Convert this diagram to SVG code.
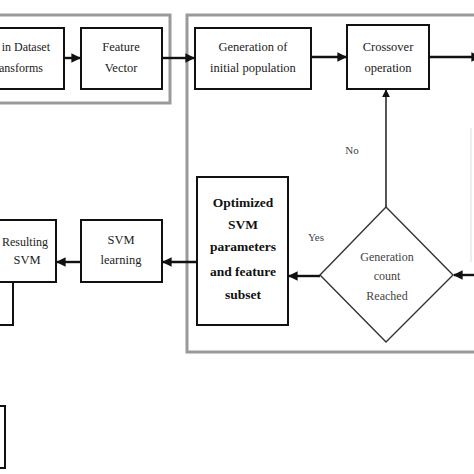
<svg xmlns="http://www.w3.org/2000/svg" width="474" height="474" viewBox="0 0 474 474">
<style>
.frame{fill:none;stroke:#9a9a9a;stroke-width:3}
.box{fill:#fff;stroke:#111;stroke-width:2}
.dia{fill:#fff;stroke:#333;stroke-width:1.4}
.t{font-family:"Liberation Serif","Times New Roman",serif;font-size:12.5px;fill:#222;text-anchor:middle}
.te{font-family:"Liberation Serif","Times New Roman",serif;font-size:12px;fill:#222;text-anchor:end}
.tb{font-family:"Liberation Serif","Times New Roman",serif;font-size:13.5px;font-weight:bold;fill:#111;text-anchor:middle}
.tg{font-family:"Liberation Serif","Times New Roman",serif;font-size:12px;fill:#444;text-anchor:middle}
.tl{font-family:"Liberation Serif","Times New Roman",serif;font-size:11px;fill:#444;text-anchor:middle}
.c{fill:none;stroke:#111;stroke-width:2.4}
.cg{fill:none;stroke:#555;stroke-width:2}
</style>
<defs>
<marker id="ah" markerWidth="4" markerHeight="4" refX="3.6" refY="2" orient="auto" markerUnits="strokeWidth">
<path d="M0,0 L4,2 L0,4 Z" fill="#111"/>
</marker>
</defs>
<rect width="474" height="474" fill="#fff"/>
<g id="frames">
<rect class="frame" x="-10" y="15" width="180" height="88"/>
<rect class="frame" x="187" y="15" width="300" height="337"/>
</g>
<g id="connectors">
<line class="c" x1="64" y1="58" x2="80" y2="58" marker-end="url(#ah)"/>
<line class="c" x1="162" y1="58" x2="194" y2="58" marker-end="url(#ah)"/>
<line class="c" x1="311" y1="57" x2="346" y2="57" marker-end="url(#ah)"/>
<line class="c" x1="429" y1="57" x2="480" y2="57" marker-end="url(#ah)"/>
<line class="cg" x1="386" y1="207" x2="386" y2="90" marker-end="url(#ah)"/>
<line class="c" x1="480" y1="275" x2="454" y2="275" marker-end="url(#ah)"/>
<line class="c" x1="320" y1="276" x2="289" y2="276" marker-end="url(#ah)"/>
<line class="c" x1="197" y1="262" x2="163" y2="262" marker-end="url(#ah)"/>
<line class="c" x1="81" y1="262" x2="57" y2="262" marker-end="url(#ah)"/>
<polyline fill="none" stroke="#111" stroke-width="2" points="13,282 13,325 -5,325"/>
<line x1="471" y1="128" x2="471" y2="262" stroke="#ddd" stroke-width="1"/>
<text class="tl" x="352" y="154">No</text>
<text class="tl" x="316" y="241">Yes</text>
</g>
<g id="train">
<rect class="box" x="-40" y="28" width="104" height="61"/>
<text class="te" x="50" y="51">in Dataset</text>
<text class="te" x="43" y="72">ansforms</text>
</g>
<g id="feature">
<rect class="box" x="81" y="28" width="81" height="61"/>
<text class="t" x="121" y="51">Feature</text>
<text class="t" x="121" y="72">Vector</text>
</g>
<g id="generation">
<rect class="box" x="195" y="28" width="116" height="61"/>
<text class="t" x="253" y="51">Generation of</text>
<text class="t" x="253" y="72">initial population</text>
</g>
<g id="crossover">
<rect class="box" x="347" y="25" width="82" height="64"/>
<text class="t" x="388" y="51">Crossover</text>
<text class="t" x="388" y="72">operation</text>
</g>
<g id="decision">
<polygon class="dia" points="386,207 453,275 386,342 320,275"/>
<text class="tg" x="387" y="261">Generation</text>
<text class="tg" x="387" y="280">count</text>
<text class="tg" x="387" y="300">Reached</text>
</g>
<g id="optimized">
<rect class="box" x="197" y="177" width="91" height="148"/>
<text class="tb" x="243" y="207">Optimized</text>
<text class="tb" x="243" y="229">SVM</text>
<text class="tb" x="243" y="251">parameters</text>
<text class="tb" x="243" y="276">and feature</text>
<text class="tb" x="243" y="299">subset</text>
</g>
<g id="svmlearning">
<rect class="box" x="81" y="220" width="81" height="62"/>
<text class="t" x="121" y="244">SVM</text>
<text class="t" x="121" y="264">learning</text>
</g>
<g id="resulting">
<rect class="box" x="-30" y="220" width="86" height="62"/>
<text class="t" x="25" y="246" style="font-size:12px">Resulting</text>
<text class="t" x="27" y="264">SVM</text>
</g>
<g id="bottom">
<rect class="box" x="-60" y="406" width="65" height="62"/>
</g>
</svg>
